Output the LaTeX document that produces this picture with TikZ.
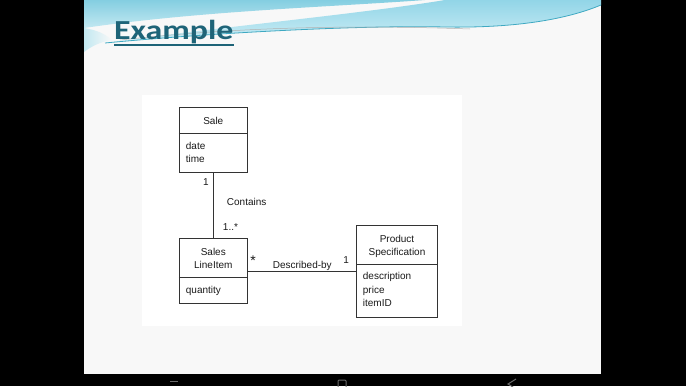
\documentclass[tikz,border=0pt]{standalone}
\usepackage{fontspec}
\setmainfont{Liberation Sans}
\newfontfamily\titlefont{Carlito}
\usetikzlibrary{positioning}
\definecolor{slidebg}{HTML}{F8F8F8}
\definecolor{titleteal}{HTML}{1E6478}
\definecolor{waveA}{HTML}{84CEE1}
\definecolor{waveAl}{HTML}{C2E8F1}
\definecolor{waveB}{HTML}{92D5E7}
\definecolor{waveBl}{HTML}{CDEEF6}
\definecolor{waveline}{HTML}{3FA9C2}
\definecolor{umlline}{HTML}{333333}
\definecolor{umltext}{HTML}{1A1A1A}
\definecolor{navgray}{HTML}{6A6A6A}
\tikzset{
  umlbox/.style={draw=umlline, line width=0.9pt, inner sep=0pt, fill=white},
  divider/.style={draw=umlline, line width=0.9pt},
  assoc/.style={draw=umlline, line width=0.9pt},
  umllabel/.style={inner sep=0pt, text=umltext, font=\fontsize{10}{12}\selectfont},
  navicon/.style={draw=navgray, line width=1pt}
}
\begin{document}
\begin{tikzpicture}[x=1pt,y=-1pt]
\useasboundingbox (0,0) rectangle (686,386);
% screen background
\fill[black] (0,0) rectangle (686,386);
\fill[slidebg] (84,0) rectangle (601,374);
% top wave
\shade[top color=waveA, bottom color=waveAl] (84,0) -- (425,0) .. controls (330,7) and (200,11) .. (84,28) -- cycle;
\shade[left color=waveAl, right color=slidebg] (84,28) -- (84,52) .. controls (92,46) and (100,42) .. (112,40) .. controls (104,33) and (96,30) .. (84,28) -- cycle;
\shade[top color=waveB, bottom color=waveBl] (105,43) .. controls (210,28) and (360,14) .. (445,0) -- (601,0) -- (601,5) .. controls (560,22) and (505,28) .. (445,27) .. controls (360,25) and (210,33) .. (105,43) -- cycle;
\draw[waveline, line width=0.8pt] (105,43) .. controls (210,33) and (360,25) .. (445,27) .. controls (505,28) and (560,22) .. (601,5);
\draw[gray!60, line width=0.5pt] (120,40) .. controls (220,29) and (330,24) .. (470,29);
% title
\node[inner sep=0pt, anchor=base west, text=titleteal] (title) at (114,39.5)
  {\scalebox{1.23}[1]{\titlefont\bfseries\fontsize{27.5}{30}\selectfont Example}};
\draw[titleteal, line width=1.8pt] ([yshift=-5.5pt]title.base west) -- ([yshift=-5.5pt]title.base east);
% diagram panel
\fill[white] (142,95) rectangle (462,326);
% classes
\node[umlbox, minimum width=68pt, minimum height=65pt] (sale) at (213.3,139.8) {};
\draw[divider] (sale.west |- 0,133.3) -- (sale.east |- 0,133.3);
\node[umllabel, anchor=base] (salename) at (213.3,124) {Sale};
\node[umllabel, anchor=base west] (saledate) at (185.7,149) {date};
\node[umllabel, anchor=base west] (saletime) at (185.7,162) {time};

\node[umlbox, minimum width=68pt, minimum height=65pt] (sli) at (213.3,271) {};
\draw[divider] (sli.west |- 0,277.3) -- (sli.east |- 0,277.3);
\node[umllabel, anchor=base] (sliname1) at (213.3,255) {Sales};
\node[umllabel, anchor=base] (sliname2) at (213.3,268.3) {LineItem};
\node[umllabel, anchor=base west] (sliqty) at (185.7,293.5) {quantity};

\node[umlbox, minimum width=80.6pt, minimum height=91.6pt] (ps) at (397,271.5) {};
\draw[divider] (ps.west |- 0,264.3) -- (ps.east |- 0,264.3);
\node[umllabel, anchor=base] (psname1) at (397,242) {Product};
\node[umllabel, anchor=base] (psname2) at (397,255) {Specification};
\node[umllabel, anchor=base west] (psdesc) at (362.7,279.5) {description};
\node[umllabel, anchor=base west] (psprice) at (362.7,293) {price};
\node[umllabel, anchor=base west] (psid) at (362.7,306.5) {itemID};
% associations
\draw[assoc] (sale.south) -- (sli.north);
\draw[assoc] (sli.east) -- (sli.east -| ps.west);
\node[umllabel, anchor=base] (m1) at (206,185.7) {1};
\node[umllabel, anchor=base] (contains) at (246.7,205) {Contains};
\node[umllabel, anchor=base] (m2) at (230.5,230.7) {1..*};
\node[umllabel, anchor=center, font=\fontsize{14}{16}\selectfont] (m3) at (253,260.5) {*};
\node[umllabel, anchor=base] (described) at (302.3,268) {Described-by};
\node[umllabel, anchor=base] (m4) at (346.2,263.3) {1};
% navigation bar icons
\draw[navicon] (170,381) -- (178,381);
\draw[navicon, rounded corners=1pt] (338,388) -- (338,380) -- (346,380) -- (346,388);
\draw[navicon] (516,379) -- (508,384) -- (516,389);
\end{tikzpicture}
\end{document}
